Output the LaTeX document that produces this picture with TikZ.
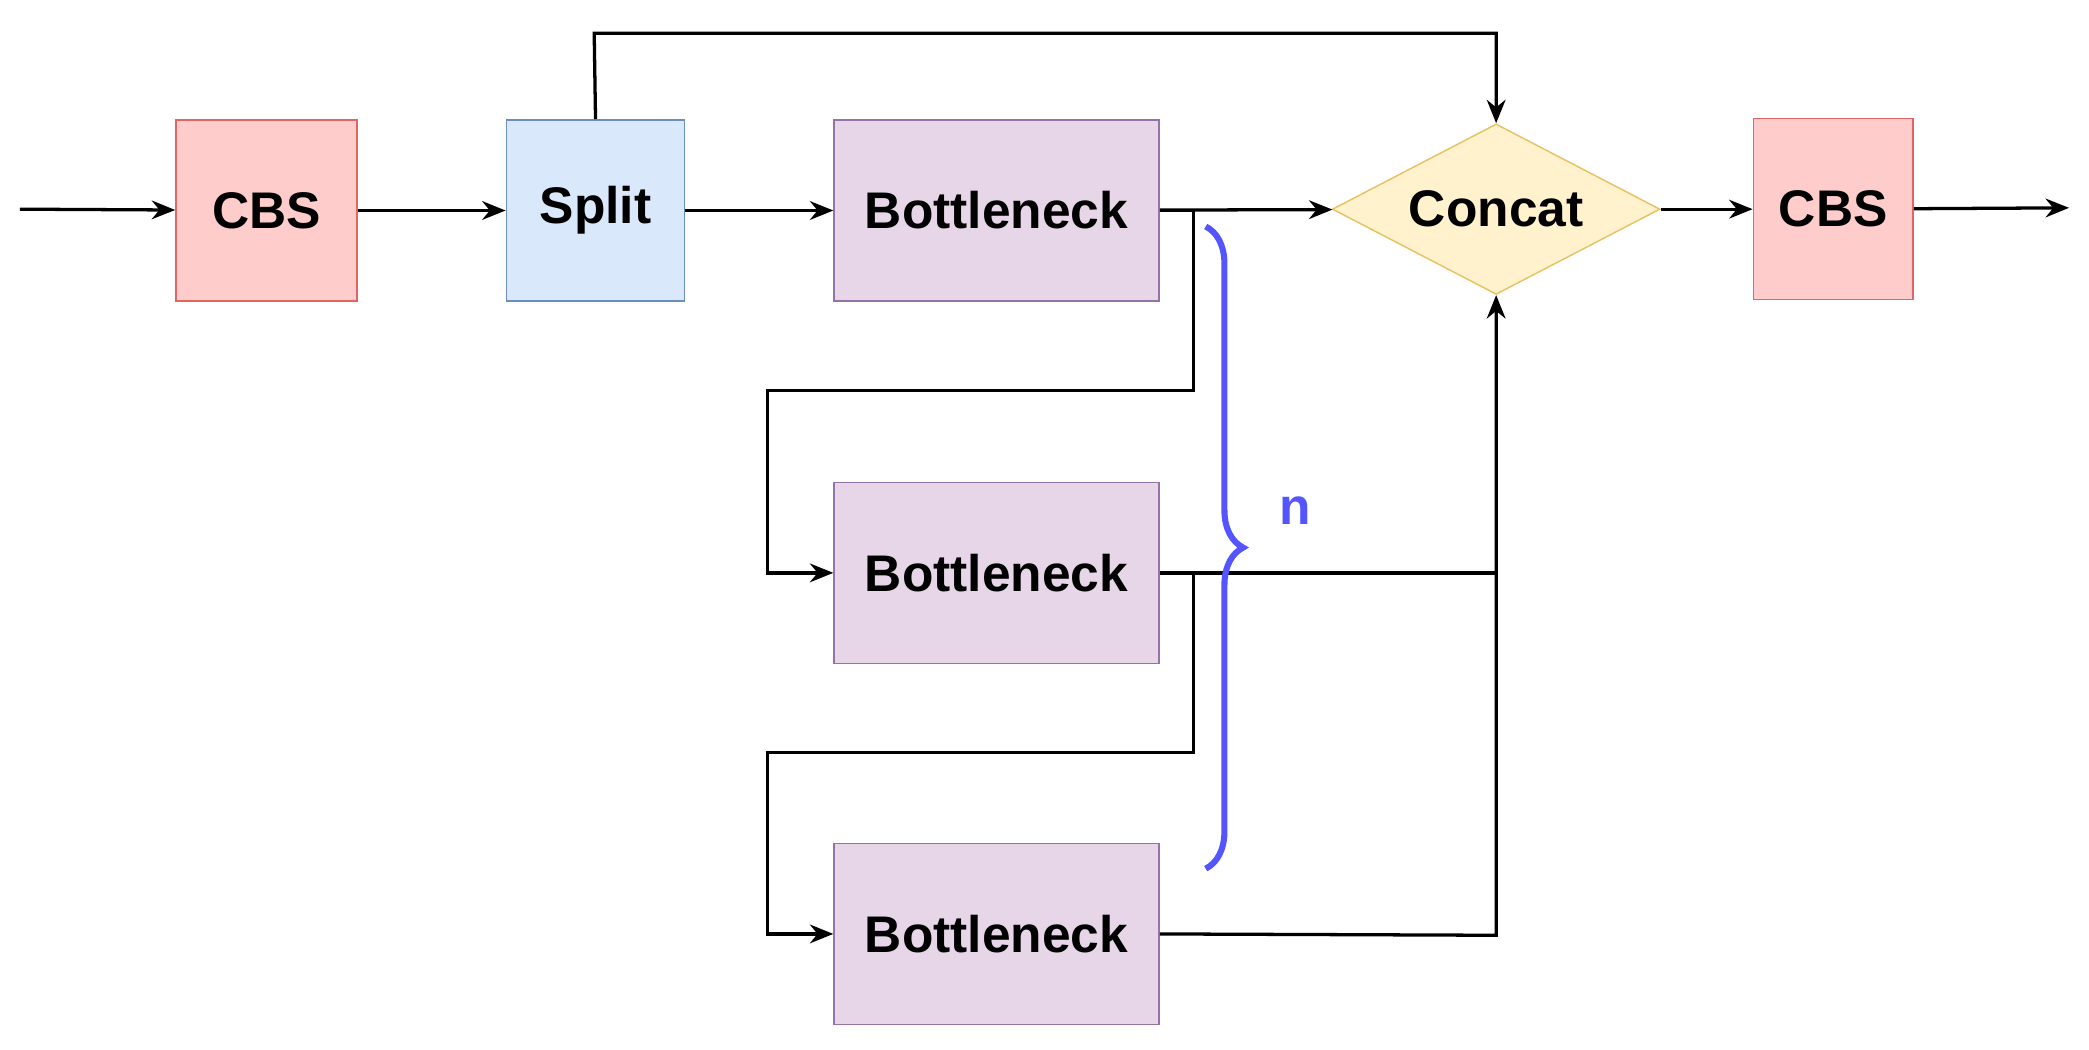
\documentclass[tikz,border=0pt]{standalone}
\usepackage{fontspec}
\setmainfont{Liberation Sans}
\usetikzlibrary{shapes.geometric,arrows.meta,decorations.pathreplacing}
\definecolor{rf}{HTML}{FFCCCC}\definecolor{rd}{HTML}{E06666}
\definecolor{bf}{HTML}{DAE8FC}\definecolor{bd}{HTML}{6C8EBF}
\definecolor{pf}{HTML}{E6D6E8}\definecolor{pd}{HTML}{9673A6}
\definecolor{yf}{HTML}{FFF2CC}\definecolor{yd}{HTML}{E8C060}
\definecolor{br}{HTML}{5555FF}
\begin{document}
\begin{tikzpicture}[x=0.02cm,y=-0.02cm,
 box/.style={draw,line width=0.6pt,minimum height=2.72cm,font=\fontsize{22}{26}\selectfont\bfseries,inner sep=0},
 ar/.style={-{Stealth[length=10pt,width=8pt]},line width=1.4pt},
 ln/.style={line width=1.4pt}]
\useasboundingbox (0,0) rectangle (1568,788);
\node[box,fill=rf,draw=rd,minimum width=2.72cm] (c1) at (200,158) {CBS};
\node[box,fill=bf,draw=bd,minimum width=2.68cm] (sp) at (447,158) {Split};
\node[box,fill=pf,draw=pd,minimum width=4.88cm] (b1) at (748,158) {Bottleneck};
\node[box,fill=pf,draw=pd,minimum width=4.88cm] (b2) at (748,430) {Bottleneck};
\node[box,fill=pf,draw=pd,minimum width=4.88cm] (b3) at (748,701) {Bottleneck};
\node[diamond,draw=yd,fill=yf,line width=0.6pt,minimum width=4.92cm,minimum height=2.56cm,aspect=1.9,inner sep=0,font=\fontsize{22}{26}\selectfont\bfseries] (cc) at (1123,157) {Concat};
\node[box,fill=rf,draw=rd,minimum width=2.4cm] (c2) at (1376,157) {CBS};
\coordinate (in) at (15,157);
\coordinate (out) at (1553,156);
\draw[ar] (in) -- (c1);
\draw[ar] (c1) -- (sp);
\draw[ar] (sp) -- (b1);
\draw[ar] (b1) -- (cc);
\draw[ar] (cc) -- (c2);
\draw[ar] (c2) -- (out);
\draw[ar] (sp.north) -- (446,25) -| (cc.north);
\draw[ar] (b1.east) -- (896,158) |- (576,293) |- (b2.west);
\draw[ar] (b2.east) -- (896,430) |- (576,565) |- (b3.west);
\draw[ln] (b2.east) -- (1123,430);
\draw[ar] (b3.east) -- (1123,702) -- (cc.south);
\draw[br,line width=2.6pt,decorate,decoration={brace,amplitude=16pt}] (905,170) -- (905,652);
\node[text=br,font=\fontsize{22}{26}\selectfont\bfseries] (n) at (972,383) {n};
\end{tikzpicture}
\end{document}
